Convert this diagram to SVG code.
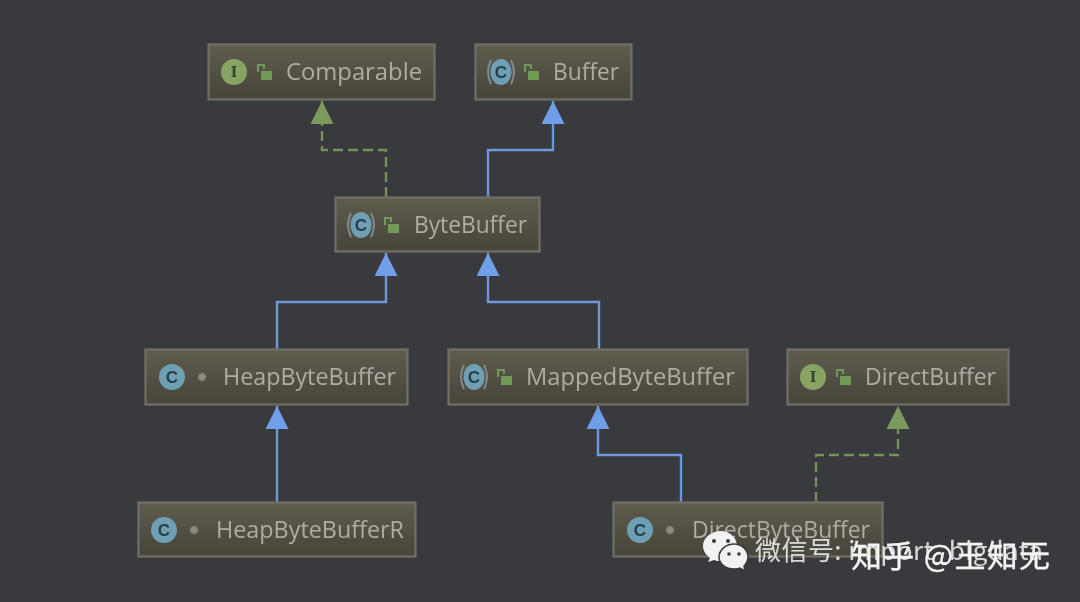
<svg xmlns="http://www.w3.org/2000/svg" width="1080" height="602" viewBox="0 0 1080 602">
<style>
.box{fill:url(#boxfill);stroke:#716f66;stroke-width:2.2}
.lbl{font-family:"Open Sans","Noto Sans",sans-serif;font-size:24px;fill:#aeaca5}
.ci{fill:#6f9fb4}.ii{fill:#87a465}
.gl{font-family:"Liberation Sans",sans-serif;font-size:17px;font-weight:bold;text-anchor:middle}
.ig{font-family:"DejaVu Serif",serif;font-size:14px;fill:#35452a}
.cg{fill:#23404e}
.lock{fill:#6f9a54}
.dot{fill:#8e8d85;stroke:#7d7c74;stroke-width:1.5}
.par{fill:none;stroke:#828a8c;stroke-width:2}
.ext{fill:none;stroke:#6f97dc;stroke-width:2.4}
.imp{fill:none;stroke:#76905a;stroke-width:2.4;stroke-dasharray:10 5}
.wm{font-family:"Noto Sans CJK SC","Noto Sans",sans-serif;fill:#f4f4f4}
</style>
<defs>
<linearGradient id="boxfill" x1="0" y1="0" x2="0" y2="1"><stop offset="0" stop-color="#5f5c4e"/><stop offset="1" stop-color="#47453a"/></linearGradient>
<filter id="soft" x="-5%" y="-5%" width="110%" height="110%"><feGaussianBlur stdDeviation="0.6"/></filter>
<marker id="aext" markerUnits="userSpaceOnUse" markerWidth="24" markerHeight="24" refX="23" refY="11.5" orient="auto"><path d="M0 0L23 11.5L0 23Z" fill="#6f9ee8"/></marker>
<marker id="aimp" markerUnits="userSpaceOnUse" markerWidth="24" markerHeight="24" refX="23" refY="11.5" orient="auto"><path d="M0 0L23 11.5L0 23Z" fill="#7c9a5d"/></marker>
<g id="lockicon"><rect class="lock" x="-3" y="-1" width="11" height="9"/><path d="M-6 0V-7H0V-3" fill="none" stroke="#6f9a54" stroke-width="2"/></g>
<g id="absbg"><ellipse class="ci" rx="10.5" ry="13"/><path class="par" d="M-10-12Q-16 0-10 12M10-12Q16 0 10 12"/></g>
</defs>
<rect width="1080" height="602" fill="#383a3d"/>
<g filter="url(#soft)">
<g id="connectors">
<path class="imp" marker-end="url(#aimp)" d="M386 197V150H322V101"/>
<path class="ext" marker-end="url(#aext)" d="M488 197V150H553V101"/>
<path class="ext" marker-end="url(#aext)" d="M277 349V302H386V253"/>
<path class="ext" marker-end="url(#aext)" d="M599 349V302H488V253"/>
<path class="ext" marker-end="url(#aext)" d="M277 502V406"/>
<path class="ext" marker-end="url(#aext)" d="M681 502V455H598V406"/>
<path class="imp" marker-end="url(#aimp)" d="M816 502V455H898V406"/>
</g>
<g id="comparable"><rect class="box" x="208.500" y="44.500" width="226" height="55"/><circle class="ii" cx="234" cy="72" r="13"/><text class="gl ig" x="234" y="77">I</text><use href="#lockicon" x="264" y="72"/><text class="lbl" x="286" y="80" textLength="136" lengthAdjust="spacingAndGlyphs">Comparable</text></g>
<g id="buffer"><rect class="box" x="475.500" y="44.500" width="156" height="55"/><use href="#absbg" x="501" y="72"/><text class="gl cg" x="501" y="78">C</text><use href="#lockicon" x="531" y="72"/><text class="lbl" x="553" y="80" textLength="66" lengthAdjust="spacingAndGlyphs">Buffer</text></g>
<g id="bytebuffer"><rect class="box" x="335.500" y="197.500" width="204" height="54"/><use href="#absbg" x="361" y="225"/><text class="gl cg" x="361" y="231">C</text><use href="#lockicon" x="391" y="225"/><text class="lbl" x="414" y="233" textLength="113" lengthAdjust="spacingAndGlyphs">ByteBuffer</text></g>
<g id="heapbytebuffer"><rect class="box" x="145.500" y="349.500" width="262" height="55"/><circle class="ci" cx="172" cy="377" r="13"/><text class="gl cg" x="172" y="383">C</text><circle class="dot" cx="202" cy="377" r="3.5"/><text class="lbl" x="223" y="385" textLength="173" lengthAdjust="spacingAndGlyphs">HeapByteBuffer</text></g>
<g id="mappedbytebuffer"><rect class="box" x="448.500" y="349.500" width="299" height="55"/><use href="#absbg" x="474" y="377"/><text class="gl cg" x="474" y="383">C</text><use href="#lockicon" x="504" y="377"/><text class="lbl" x="526" y="385" textLength="209" lengthAdjust="spacingAndGlyphs">MappedByteBuffer</text></g>
<g id="directbuffer"><rect class="box" x="787.500" y="349.500" width="221" height="55"/><circle class="ii" cx="813" cy="377" r="13"/><text class="gl ig" x="813" y="382">I</text><use href="#lockicon" x="843" y="377"/><text class="lbl" x="865" y="385" textLength="131" lengthAdjust="spacingAndGlyphs">DirectBuffer</text></g>
<g id="heapbytebufferr"><rect class="box" x="138.500" y="502.500" width="277" height="54"/><circle class="ci" cx="164" cy="530" r="13"/><text class="gl cg" x="164" y="536">C</text><circle class="dot" cx="194" cy="530" r="3.5"/><text class="lbl" x="216" y="538" textLength="188" lengthAdjust="spacingAndGlyphs">HeapByteBufferR</text></g>
<g id="directbytebuffer"><rect class="box" x="613.500" y="502.500" width="269" height="54"/><circle class="ci" cx="640" cy="530" r="13"/><text class="gl cg" x="640" y="536">C</text><circle class="dot" cx="670" cy="530" r="3.5"/><text class="lbl" x="692" y="538" textLength="178" lengthAdjust="spacingAndGlyphs">DirectByteBuffer</text></g>
</g>
<g id="watermark">
<path fill="#f2f2f2" d="M721 531C711 531 703 538 703 546C703 551 706 555 710 558L708 562L714 560C716 561 719 561 721 561C730 561 737 554 737 546C737 538 730 531 721 531Z"/>
<path fill="#f2f2f2" stroke="#383a3d" stroke-width="1.5" d="M734 544C726 544 719 550 719 557C719 564 726 569 734 569C736 569 738 569 740 568L745 571L744 566C746 564 748 561 748 557C748 550 742 544 734 544Z"/>
<g fill="#383a3d"><circle cx="714" cy="541" r="2"/><circle cx="728" cy="541" r="2"/><circle cx="729" cy="554" r="1.8"/><circle cx="739" cy="554" r="1.8"/></g>
<text class="wm" x="755" y="560" font-size="26" textLength="288" fill-opacity="0.85">微信号: import_bigdata</text>
<text class="wm" x="851" y="567" font-size="31" textLength="199" stroke="#f4f4f4" stroke-width="0.3">知乎 @王知无</text>
</g>
</svg>
